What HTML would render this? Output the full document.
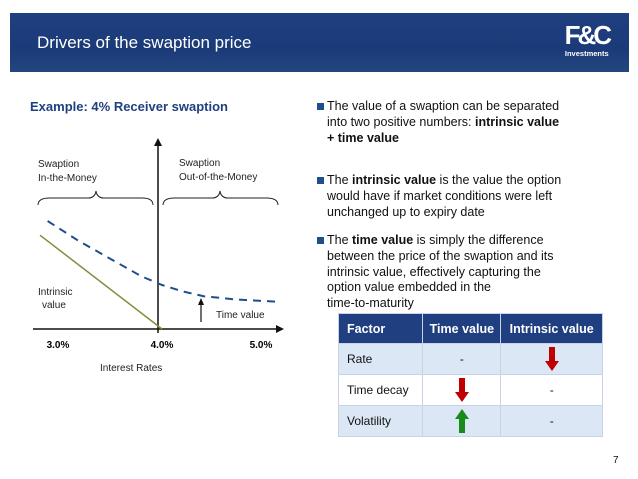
<!DOCTYPE html>
<html><head><meta charset="utf-8">
<style>
body{margin:0;width:638px;height:479px;background:#fff;font-family:"Liberation Sans",Arial,sans-serif;position:relative;overflow:hidden;color:#111}
.hdr{position:absolute;left:10px;top:13px;width:619px;height:59px;background:linear-gradient(180deg,#1f3f80,#1a3a78 60%,#24467f);}
.hdr .t{position:absolute;left:27px;top:20px;color:#fff;font-size:17px}
.logo{position:absolute;right:20px;top:8px;color:#fff;text-align:center;font-weight:bold}
.logo .b{font-size:26px;letter-spacing:-3px;line-height:28px}
.logo .s{font-size:7.5px;line-height:9px}
.ex{position:absolute;left:30px;top:99px;font-size:13px;font-weight:bold;color:#1f3f80}
.bul{position:absolute;left:327px;font-size:12.5px;line-height:15.8px;white-space:nowrap}
.bul:before{content:"";position:absolute;left:-10px;top:4px;width:7px;height:7px;background:#1f4f8a}
table{position:absolute;left:338px;top:313px;width:265px;border-collapse:collapse;font-size:12px}
td,th{height:30px;border:1px solid #c8d4e6;padding:0 0 0 8px;text-align:left}
th{background:#1f3f80;color:#fff;font-weight:bold;height:29px;font-size:12.5px}
th.c,td.c{text-align:center;padding:0}
tr.a td{background:#dce7f5}
.pg{position:absolute;left:613px;top:455px;font-size:10px}
svg{position:absolute;left:0;top:0}
</style></head><body>
<div class="hdr">
<div class="t">Drivers of the swaption price</div>
<div class="logo"><div class="b">F&amp;C</div><div class="s">Investments</div></div>
</div>
<div class="ex">Example: 4% Receiver swaption</div>

<svg width="638" height="479" id="chart">
<g font-size="10" fill="#222">
<text x="38" y="167">Swaption</text>
<text x="38" y="181">In-the-Money</text>
<text x="179" y="166">Swaption</text>
<text x="179" y="180">Out-of-the-Money</text>
<text x="38" y="295">Intrinsic</text>
<text x="42" y="308">value</text>
<text x="216" y="318">Time value</text>
<text x="100" y="371">Interest Rates</text>
</g>
<path d="M38,205 Q38,198 50,198 L88,198 Q95,198 96,191 Q97,198 104,198 L142,198 Q153,198 153,205" fill="none" stroke="#222"/>
<path d="M163,205 Q163,198 175,198 L212,198 Q219,198 220,191 Q221,198 228,198 L266,198 Q278,198 278,205" fill="none" stroke="#222"/>
<line x1="158" y1="333" x2="158" y2="142" stroke="#111" stroke-width="1.5"/>
<path d="M154,146 L158,138 L162,146Z" fill="#111"/>
<line x1="33" y1="329" x2="278" y2="329" stroke="#111" stroke-width="1.5"/>
<path d="M276,325 L284,329 L276,333Z" fill="#111"/>
<line x1="201" y1="322" x2="201" y2="303" stroke="#111" stroke-width="1.2"/>
<path d="M198,305 L201,298 L204,305Z" fill="#111"/>
</svg>

<div class="bul" style="top:99px">The value of a swaption can be separated<br>into two positive numbers: <b>intrinsic value</b><br><b>+ time value</b></div>
<div class="bul" style="top:173px">The <b>intrinsic value</b> is the value the option<br>would have if market conditions were left<br>unchanged up to expiry date</div>
<div class="bul" style="top:233px">The <b>time value</b> is simply the difference<br>between the price of the swaption and its<br>intrinsic value, effectively capturing the<br>option value embedded in the<br>time-to-maturity</div>

<table>
<tr><th>Factor</th><th class="c">Time value</th><th class="c">Intrinsic value</th></tr>
<tr class="a"><td>Rate</td><td class="c">-</td><td class="c"><svg width="14" height="24" style="position:static;vertical-align:middle"><path d="M4,0H10V14H14L7,24L0,14H4Z" fill="#c00000"/></svg></td></tr>
<tr><td>Time decay</td><td class="c"><svg width="14" height="24" style="position:static;vertical-align:middle"><path d="M4,0H10V14H14L7,24L0,14H4Z" fill="#c00000"/></svg></td><td class="c">-</td></tr>
<tr class="a"><td>Volatility</td><td class="c"><svg width="14" height="24" style="position:static;vertical-align:middle"><path d="M4,24H10V10H14L7,0L0,10H4Z" fill="#1a8a1a"/></svg></td><td class="c">-</td></tr>
</table>
<div class="pg">7</div>

<script>
const tickRates=[3.0,4.0,5.0];
const tickLabels=["3.0%","4.0%","5.0%"];
const intrinsicRates=[2.827,4.0];
const intrinsicValues=[1.173,0];
const optionRates=[2.9,3.2,3.5,3.8,4.0,4.2,4.4,4.7,5.12];
const optionValues=[1.35,1.1,0.88,0.66,0.55,0.47,0.41,0.37,0.34];
const NS="http://www.w3.org/2000/svg";
const svg=document.getElementById('chart');
function x(r){return 58+(r-3)*104;}
function y(v){return 329-v*80;}
function mk(t){return document.createElementNS(NS,t);}
tickRates.forEach((r,i)=>{
  const t=mk('text');
  t.setAttribute('x',x(r)+(i==2?-5:0));t.setAttribute('y',348);
  t.setAttribute('text-anchor','middle');t.setAttribute('font-size','10');t.setAttribute('font-weight','bold');
  t.textContent=tickLabels[i];
  
  
  svg.appendChild(t);
});
const l=mk('polyline');
l.setAttribute('points',intrinsicRates.map((r,i)=>x(r)+','+y(intrinsicValues[i])).join(' '));
l.setAttribute('fill','none');l.setAttribute('stroke','#7f8f3a');l.setAttribute('stroke-width','1.5');


svg.appendChild(l);
const d=mk('polyline');
d.setAttribute('points',optionRates.map((r,i)=>x(r)+','+y(optionValues[i])).join(' '));
d.setAttribute('fill','none');d.setAttribute('stroke','#1f4f8a');d.setAttribute('stroke-width','2');d.setAttribute('stroke-dasharray','8,6');


svg.appendChild(d);
</script>
</body></html>
